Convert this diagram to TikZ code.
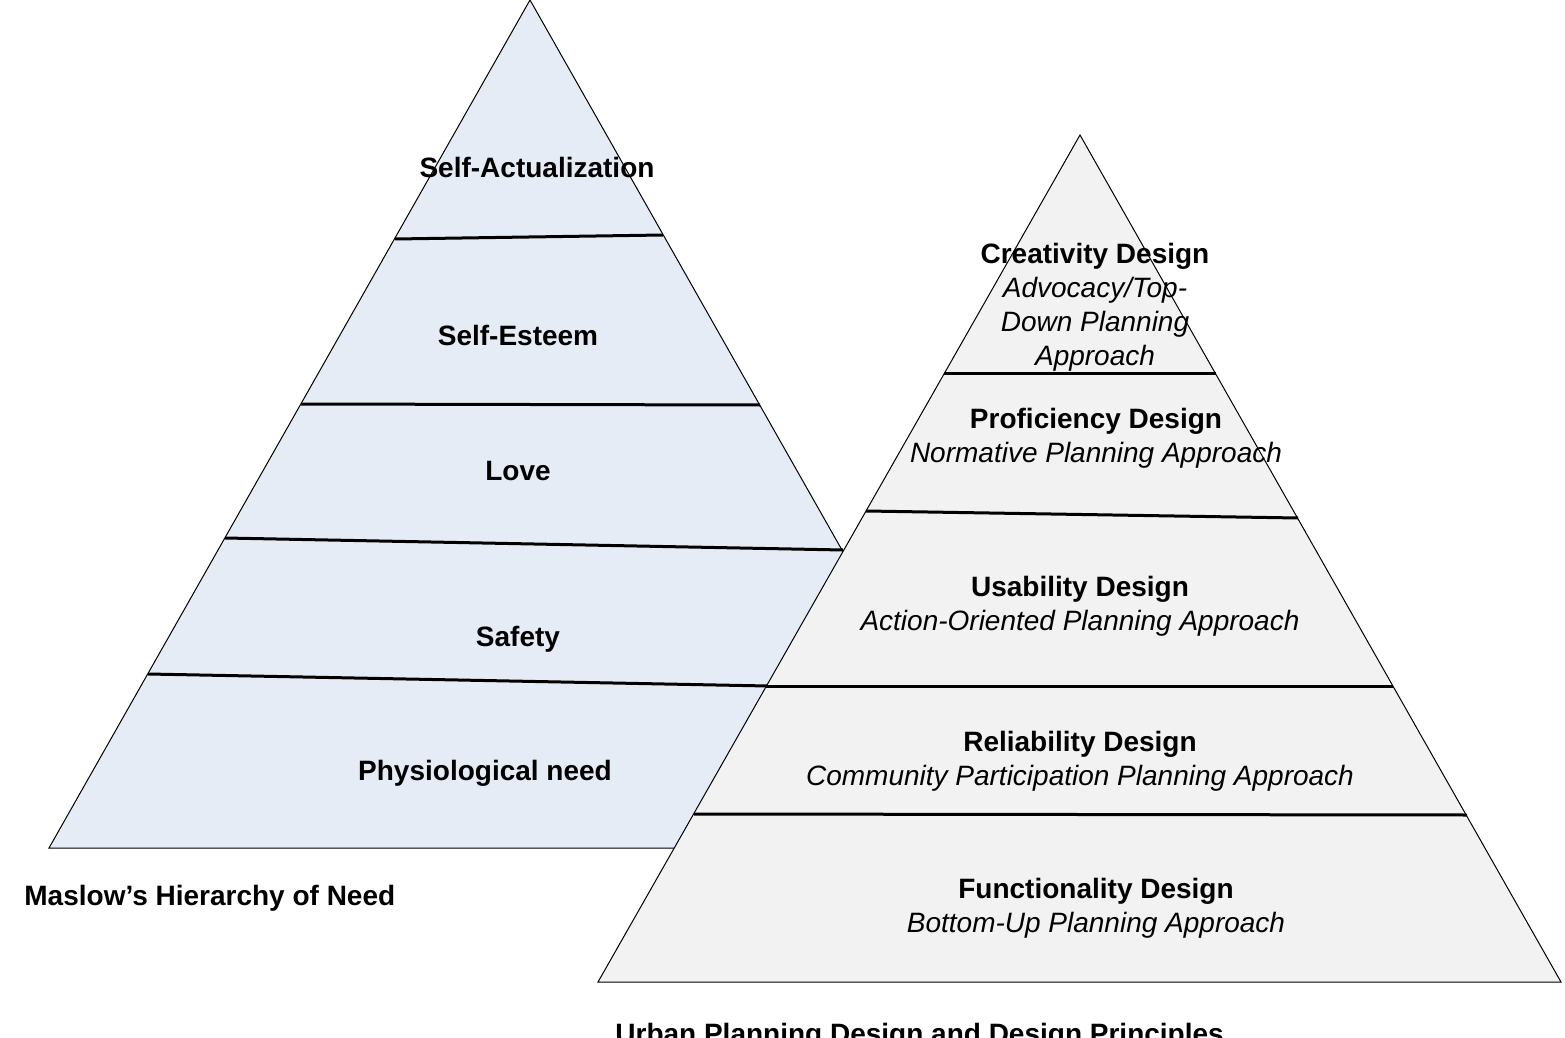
\documentclass[tikz,border=0pt]{standalone}
\usepackage{fontspec}
\setmainfont{Liberation Sans}
\definecolor{maslowfill}{RGB}{230,236,246}
\definecolor{urbanfill}{RGB}{242,242,242}
\newcommand{\subtxt}[1]{{\mdseries\itshape #1}}
\begin{document}
\begin{tikzpicture}[x=0.5pt,y=-0.5pt,
  tri/.style={draw=black,line width=0.5pt,line join=miter},
  divider/.style={draw=black,line width=1.5pt},
  lbl/.style={inner sep=0pt,align=center,font=\fontsize{14}{17}\selectfont\bfseries},
  captext/.style={inner sep=0pt,font=\fontsize{14}{17}\selectfont\bfseries}]
\clip (0,0) rectangle (1565,1038);
% Maslow triangle
\coordinate (LA) at (530,0);
\coordinate (LBL) at (49,848);
\coordinate (LBR) at (1011,848);
\path[tri,fill=maslowfill] (LA) -- (LBL) -- (LBR) -- cycle;
\coordinate (l1a) at (395,239); \coordinate (l1b) at (663,235);
\coordinate (l2a) at (301,404); \coordinate (l2b) at (760,405);
\coordinate (l3a) at (225,538); \coordinate (l3b) at (843,550);
\coordinate (l4a) at (148,674); \coordinate (l4b) at (768,686);
\draw[divider] (l1a) -- (l1b);
\draw[divider] (l2a) -- (l2b);
\draw[divider] (l3a) -- (l3b);
\draw[divider] (l4a) -- (l4b);
\node[lbl] (selfact) at (537,167) {Self-Actualization};
\node[lbl] (esteem) at (518,335) {Self-Esteem};
\node[lbl] (love) at (518,471) {Love};
\node[lbl] (safety) at (518,639) {Safety};
\node[lbl] (physio) at (485,773) {Physiological need};
\node[captext,anchor=west] (maslowcap) at (24,898) {Maslow’s Hierarchy of Need};
% Urban planning triangle
\coordinate (RA) at (1080,135);
\coordinate (RBL) at (598,982);
\coordinate (RBR) at (1561,982);
\path[tri,fill=urbanfill] (RA) -- (RBL) -- (RBR) -- cycle;
\coordinate (r1a) at (944,373); \coordinate (r1b) at (1216,373);
\coordinate (r2a) at (866,511); \coordinate (r2b) at (1298,518);
\coordinate (r3a) at (766,686); \coordinate (r3b) at (1393,686);
\coordinate (r4a) at (694,814); \coordinate (r4b) at (1467,815);
\draw[divider] (r1a) -- (r1b);
\draw[divider] (r2a) -- (r2b);
\draw[divider] (r3a) -- (r3b);
\draw[divider] (r4a) -- (r4b);
\node[lbl] (creat) at (1095,307) {Creativity Design\\\subtxt{Advocacy/Top-}\\\subtxt{Down Planning}\\\subtxt{Approach}};
\node[lbl] (profic) at (1096,438) {Proficiency Design\\\subtxt{Normative Planning Approach}};
\node[lbl] (usab) at (1080,606) {Usability Design\\\subtxt{Action-Oriented Planning Approach}};
\node[lbl] (reliab) at (1080,761) {Reliability Design\\\subtxt{Community Participation Planning Approach}};
\node[lbl] (funct) at (1096,908) {Functionality Design\\\subtxt{Bottom-Up Planning Approach}};
\node[captext,anchor=base west] (urbancap) at (615,1043) {Urban Planning Design and Design Principles};
\end{tikzpicture}
\end{document}
